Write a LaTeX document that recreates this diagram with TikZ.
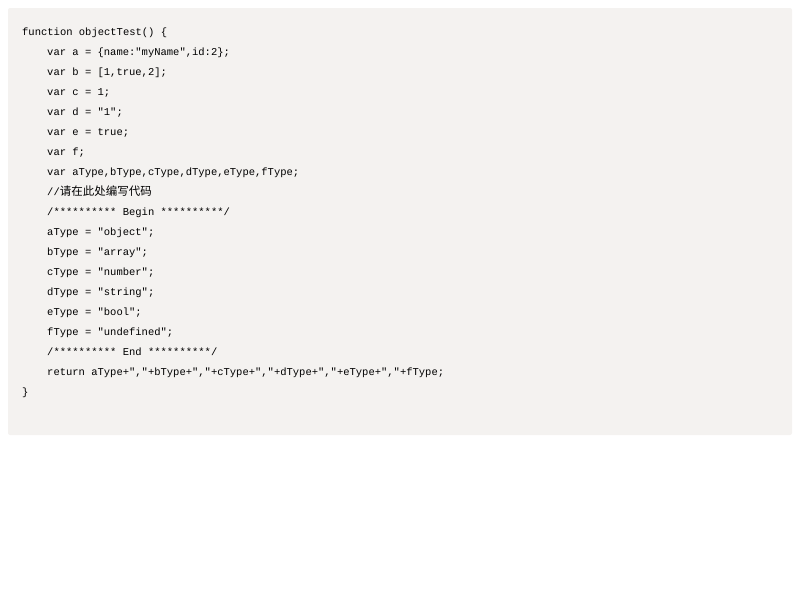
\documentclass[tikz,border=0pt]{standalone}
\usepackage{fontspec}
\setmonofont{Liberation Mono}
\newfontfamily\cjk{Noto Sans CJK SC}
\definecolor{codebg}{HTML}{F4F2F0}
\begin{document}
\begin{tikzpicture}[x=1pt,y=-1pt,
  codeline/.style={anchor=base west,inner sep=0pt,font=\ttfamily\fontsize{10.5}{12}\selectfont,text=black}]
\useasboundingbox (0,0) rectangle (800,600);
\fill[codebg,rounded corners=2pt] (8,8) rectangle (792,435);
\node[codeline] (l1) at (22,35) {function objectTest() \{};
\node[codeline] (l2) at (47,55) {var a = \{name:"myName",id:2\};};
\node[codeline] (l3) at (47,75) {var b = [1,true,2];};
\node[codeline] (l4) at (47,95) {var c = 1;};
\node[codeline] (l5) at (47,115) {var d = "1";};
\node[codeline] (l6) at (47,135) {var e = true;};
\node[codeline] (l7) at (47,155) {var f;};
\node[codeline] (l8) at (47,175) {var aType,bType,cType,dType,eType,fType;};
\node[codeline] (l9) at (47,195) {//{\cjk\fontsize{11.5}{12}\selectfont 请在此处编写代码}};
\node[codeline] (l10) at (47,215) {/********** Begin **********/};
\node[codeline] (l11) at (47,235) {aType = "object";};
\node[codeline] (l12) at (47,255) {bType = "array";};
\node[codeline] (l13) at (47,275) {cType = "number";};
\node[codeline] (l14) at (47,295) {dType = "string";};
\node[codeline] (l15) at (47,315) {eType = "bool";};
\node[codeline] (l16) at (47,335) {fType = "undefined";};
\node[codeline] (l17) at (47,355) {/********** End **********/};
\node[codeline] (l18) at (47,375) {return aType+","+bType+","+cType+","+dType+","+eType+","+fType;};
\node[codeline] (l19) at (22,395) {\}};
\end{tikzpicture}
\end{document}
